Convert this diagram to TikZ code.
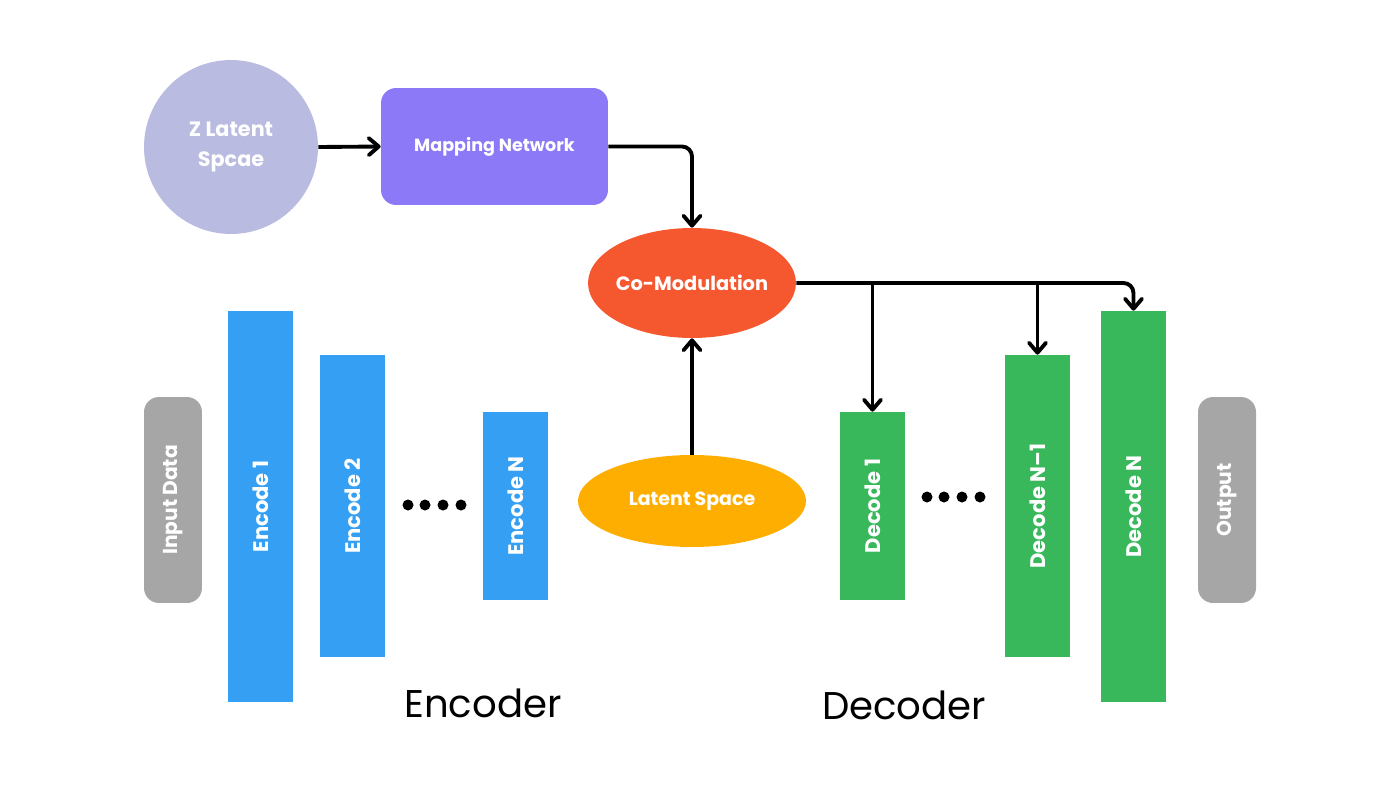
\documentclass[tikz,border=0pt]{standalone}
\usepackage{fontspec}
\setmainfont{Poppins}
\usetikzlibrary{arrows.meta,shapes.geometric}
\definecolor{zlav}{HTML}{B9BBE1}
\definecolor{mappurple}{HTML}{8B79F7}
\definecolor{modred}{HTML}{F5572F}
\definecolor{latamber}{HTML}{FEAE01}
\definecolor{encblue}{HTML}{349FF3}
\definecolor{decgreen}{HTML}{39B75B}
\definecolor{iogray}{HTML}{A6A6A6}
\begin{document}
\begin{tikzpicture}[x=0.02cm,y=-0.02cm,
	lbl/.style={text=white,font=\bfseries\fontsize{11}{13}\selectfont,inner sep=0pt},
	barlbl/.style={lbl,font=\bfseries\fontsize{12}{14}\selectfont},
	encbar/.style={barlbl,fill=encblue,minimum width=1.3cm},
	decbar/.style={barlbl,fill=decgreen,minimum width=1.3cm},
	iobox/.style={lbl,font=\bfseries\fontsize{11.5}{14}\selectfont,fill=iogray,rounded corners=0.3cm,minimum width=1.16cm,minimum height=4.12cm},
	conn/.style={line width=2.2pt,-{Straight Barb[length=2mm,width=3.4mm,round]},rounded corners=0.2cm},
	part/.style={font=\fontsize{22}{26}\selectfont}]
\useasboundingbox (0,0) rectangle (1400,788);

\node[lbl,font=\bfseries\fontsize{11.8}{17}\selectfont,circle,fill=zlav,minimum size=3.48cm,align=center] (zls) at (231,147) {Z Latent\\Spcae};
\node[lbl,font=\bfseries\fontsize{10}{12}\selectfont,fill=mappurple,rounded corners=0.3cm,minimum width=4.54cm,minimum height=2.34cm] (map) at (494.5,146.5) {Mapping Network};
\node[lbl,font=\bfseries\fontsize{11}{14}\selectfont,ellipse,fill=modred,minimum width=4.16cm,minimum height=2.2cm] (comod) at (692,283) {\makebox[0pt]{Co-Modulation}};
\node[lbl,font=\bfseries\fontsize{10.8}{14}\selectfont,ellipse,fill=latamber,minimum width=4.56cm,minimum height=1.84cm] (lat) at (692,501) {\makebox[0pt]{Latent Space}};

\node[iobox] (inp) at (173,500) {\rotatebox{90}{Input Data}};
\node[encbar,minimum height=7.82cm] (enc1) at (260.5,506.5) {\rotatebox{90}{Encode 1}};
\node[encbar,minimum height=6.04cm] (enc2) at (352.5,506) {\rotatebox{90}{Encode 2}};
\node[encbar,minimum height=3.76cm] (encN) at (515.5,506) {\rotatebox{90}{Encode N}};

\node[decbar,minimum height=3.76cm] (dec1) at (872.5,506) {\rotatebox{90}{Decode 1}};
\node[decbar,minimum height=6.04cm] (decN1) at (1037.5,506) {\rotatebox{90}{Decode N–1}};
\node[decbar,minimum height=7.82cm] (decN) at (1133.5,506.5) {\rotatebox{90}{Decode N}};
\node[iobox] (out) at (1227,500) {\rotatebox{90}{Output}};

\foreach \x in {408,425,443,461} \fill (\x,505) circle (5.5);
\foreach \x in {927,944,962,980} \fill (\x,497) circle (5.5);

\node[part] (enclbl) at (483,703) {Encoder};
\node[part] (declbl) at (904,705) {Decoder};

\draw[conn] (zls.east) -- (map.west);
\draw[conn] (map.east) -| (comod.north);
\draw[conn] (lat.north) -- (comod.south);
\draw[conn] (comod.east) -| (decN.north);
\draw[conn] (comod.east -| dec1.north) -- (dec1.north);
\draw[conn] (comod.east -| decN1.north) -- (decN1.north);

\end{tikzpicture}
\end{document}
